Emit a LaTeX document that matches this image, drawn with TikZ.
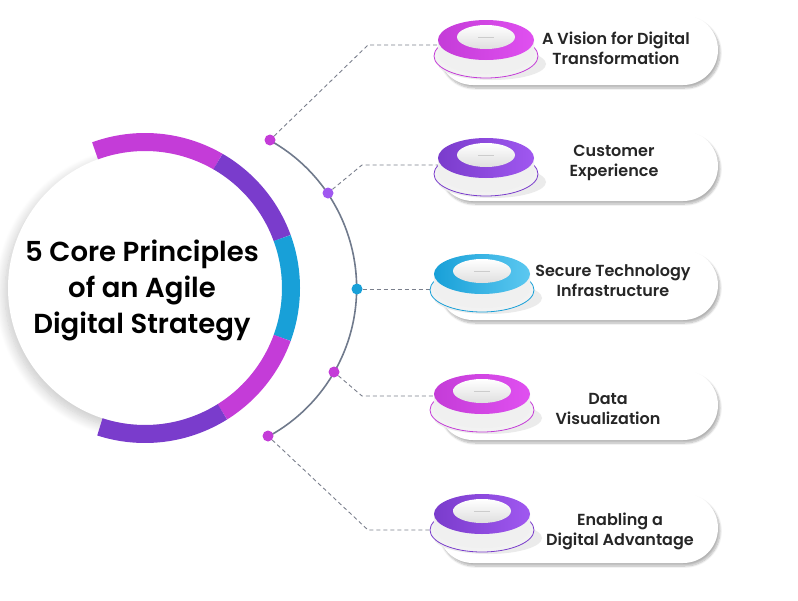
\documentclass[tikz,border=0pt]{standalone}
\usepackage{fontspec}
\setmainfont{Poppins}[BoldFont={Poppins SemiBold}]
\usetikzlibrary{shadows.blur}
\definecolor{mag}{HTML}{C43CD8}
\definecolor{magl}{HTML}{E050F0}
\definecolor{pur}{HTML}{7A3CCC}
\definecolor{purl}{HTML}{A058F0}
\definecolor{cya}{HTML}{18A0D8}
\definecolor{cyal}{HTML}{5CC8F0}
\definecolor{arcg}{HTML}{707A8C}
\definecolor{dashg}{HTML}{7A7F8C}
\tikzset{
 dot/.style={circle,inner sep=0pt,minimum size=11pt,fill=#1},
 conn/.style={dashg,dashed,line width=0.9pt,dash pattern=on 4pt off 3pt},
 card/.style={rounded corners=35pt,fill=white,minimum width=280pt,minimum height=70pt,blur shadow={shadow xshift=2pt,shadow yshift=-3pt,shadow blur steps=8,shadow opacity=30}},
 lbl/.style={align=center,font=\fontsize{16}{20}\selectfont\bfseries,text=black!85}
}
\newcommand{\btn}[4]{% x y col colLight
 \fill[black!8] (#1+6,#2+24) ellipse (54 and 16);
 \draw[#3,line width=0.8pt,fill=gray!10] (#1,#2+16) ellipse (52 and 22);
 \fill[gray!12] (#1-48,#2) -- (#1-48,#2+14) arc (-180:-360:48 and 20) -- (#1+48,#2) -- cycle;
 \shade[left color=#3,right color=#4] (#1,#2) ellipse (48 and 20);
 \shade[top color=white,bottom color=gray!25] (#1,#2-3) ellipse (29 and 12);
 \draw[gray!40,line width=1pt] (#1-8,#2-3) -- (#1+8,#2-3);
}
\begin{document}
\begin{tikzpicture}[x=1pt,y=-1pt]
\useasboundingbox (0,0) rectangle (798,600);
% main disc
\fill[blur shadow={shadow xshift=-3pt,shadow yshift=-5pt,shadow blur steps=14,shadow blur radius=10pt,shadow opacity=22}, white] (145,288) circle (137);
\node[lbl,font=\fontsize{27.5}{36}\selectfont\bfseries,text=black] (title) at (142,290) {5 Core Principles\\of an Agile\\Digital Strategy};
% ring segments
\begin{scope}[line width=18pt]
\draw[mag] (145,288) ++(-110:146) arc[start angle=-110,end angle=-60,radius=146];
\draw[pur] (145,288) ++(-60:146) arc[start angle=-60,end angle=-20,radius=146];
\draw[cya] (145,288) ++(-20:146) arc[start angle=-20,end angle=20,radius=146];
\draw[mag] (145,288) ++(20:146) arc[start angle=20,end angle=58,radius=146];
\draw[pur] (145,288) ++(58:146) arc[start angle=58,end angle=108,radius=146];
\end{scope}
% grey arc
\draw[arcg,line width=1.6pt] (187.6,288) ++(-61:169) arc[start angle=-61,end angle=61,radius=169];
\node[dot=mag] (d1) at (270,140) {};
\node[dot=purl] (d2) at (328,193) {};
\node[dot=cya] (d3) at (357,289) {};
\node[dot=mag] (d4) at (334,372) {};
\node[dot=mag] (d5) at (268,436) {};
% cards
\foreach \y/\n in {50/c1,166/c2,285/c3,405/c4,528/c5}{
 \node[card] (\n) at (578,\y) {};
}
\coordinate (k1) at (368,45); \coordinate (e1) at (440,45);
\coordinate (k2) at (362,165); \coordinate (e2) at (440,165);
\coordinate (e3) at (432,289);
\coordinate (k4) at (362,396); \coordinate (e4) at (436,396);
\coordinate (k5) at (368,530); \coordinate (e5) at (440,530);
\draw[conn] (d1) -- (k1) -- (e1);
\draw[conn] (d2) -- (k2) -- (e2);
\draw[conn] (d3) -- (e3);
\draw[conn] (d4) -- (k4) -- (e4);
\draw[conn] (d5) -- (k5) -- (e5);
\btn{486}{40}{mag}{magl}
\btn{486}{158}{pur}{purl}
\btn{482}{274}{cya}{cyal}
\btn{482}{394}{mag}{magl}
\btn{482}{514}{pur}{purl}
\node[lbl] (t1) at (616,48) {A Vision for Digital\\Transformation};
\node[lbl] (t2) at (614,163) {Customer\\Experience};
\node[lbl] (t3) at (613,281) {Secure Technology\\Infrastructure};
\node[lbl] (t4) at (608,409) {Data\\Visualization};
\node[lbl] (t5) at (620,531) {Enabling a\\Digital Advantage};
\end{tikzpicture}
\end{document}
